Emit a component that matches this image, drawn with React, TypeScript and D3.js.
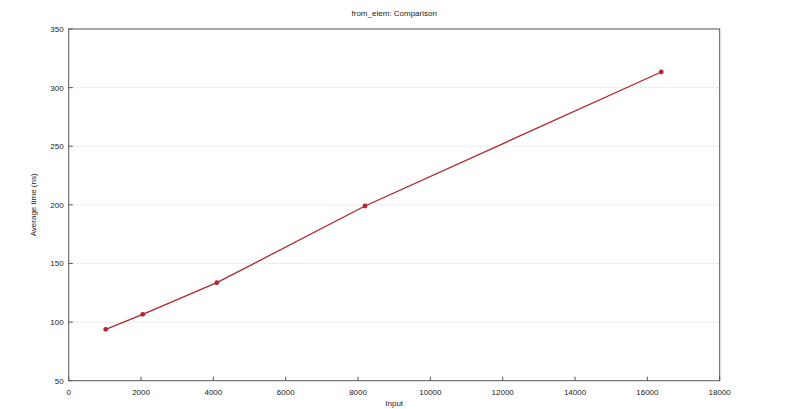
import React from "react";
import * as d3 from "d3";

const inputs = [1024, 2048, 4096, 8192, 16384];
const avgTimes = [93.8, 106.6, 133.6, 199, 313.3];
const xTicks = [0, 2000, 4000, 6000, 8000, 10000, 12000, 14000, 16000, 18000];
const yTicks = [50, 100, 150, 200, 250, 300, 350];

const W = 799;
const H = 409;
const M = { left: 68.7, right: 719.7, top: 29, bottom: 380.7 };
const FONT = "'Liberation Sans', Arial, Helvetica, sans-serif";
const RED = "#b2262c";

export default function App() {
  const x = d3.scaleLinear().domain([0, 18000]).range([M.left, M.right]);
  const y = d3.scaleLinear().domain([50, 350]).range([M.bottom, M.top]);
  const line = d3
    .line<number>()
    .x((_, i) => x(inputs[i]))
    .y((d) => y(d));

  return (
    <svg
      width={W}
      height={H}
      style={{ position: "absolute", left: 0, top: 0, background: "#fff" }}
      fontFamily={FONT}
    >
      <rect width={W} height={H} fill="#fff" />
      {yTicks
        .filter((t) => t !== 50 && t !== 350)
        .map((t) => (
          <line
            key={"g" + t}
            x1={M.left}
            x2={M.right}
            y1={y(t)}
            y2={y(t)}
            stroke="#c8c8c8"
            strokeWidth={0.8}
            strokeDasharray="1.5,2.5"
          />
        ))}
      {yTicks.map((t) => (
        <g key={"y" + t}>
          <line x1={M.left} x2={M.left + 4} y1={y(t)} y2={y(t)} stroke="#555" strokeWidth={1} />
          <text x={M.left - 5} y={y(t) + 3} fontSize={8} textAnchor="end" fill="#222">
            {t}
          </text>
        </g>
      ))}
      {xTicks.map((t) => (
        <g key={"x" + t}>
          <line x1={x(t)} x2={x(t)} y1={M.bottom} y2={M.bottom - 4} stroke="#555" strokeWidth={1} />
          <text x={x(t)} y={M.bottom + 14} fontSize={8} textAnchor="middle" fill="#222">
            {t}
          </text>
        </g>
      ))}
      <rect
        x={M.left}
        y={M.top}
        width={M.right - M.left}
        height={M.bottom - M.top}
        fill="none"
        stroke="#555"
        strokeWidth={1}
      />
      <path d={line(avgTimes) || ""} fill="none" stroke={RED} strokeWidth={1.3} />
      {avgTimes.map((v, i) => (
        <circle key={i} cx={x(inputs[i])} cy={y(v)} r={2.4} fill={RED} />
      ))}
      <text x={(M.left + M.right) / 2} y={16} fontSize={8} textAnchor="middle" fill="#222">
        from_elem: Comparison
      </text>
      <text x={(M.left + M.right) / 2} y={406} fontSize={8} textAnchor="middle" fill="#222">
        Input
      </text>
      <text
        transform={`translate(36, ${(M.top + M.bottom) / 2}) rotate(-90)`}
        fontSize={8}
        textAnchor="middle"
        fill="#222"
      >
        Average time (ns)
      </text>
    </svg>
  );
}
